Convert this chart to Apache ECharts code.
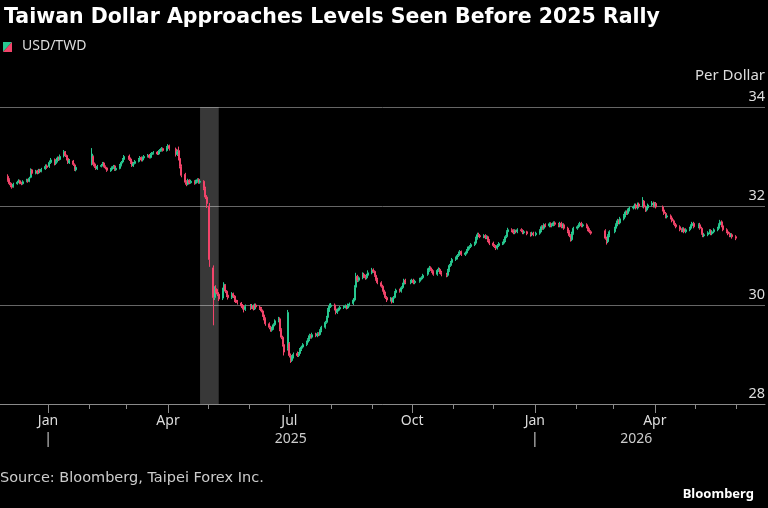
<!DOCTYPE html>
<html>
<head>
<meta charset="utf-8">
<title>USD/TWD</title>
<script src="https://cdn.jsdelivr.net/npm/echarts@6/dist/echarts.min.js"></script>
<style>
  html, body { margin: 0; padding: 0; background: #000; }
  #chart { width: 768px; height: 508px; }
</style>
</head>
<body>
<div id="chart"></div>
<script>
// 交易日历：工作日，去掉台北外汇市场休市日
const firstDay = '2024-12-02';
const lastDay = '2026-06-01';
const holidays = [
  '2025-01-01', '2025-01-23', '2025-01-24', '2025-01-27', '2025-01-28', '2025-01-29',
  '2025-01-30', '2025-01-31', '2025-02-28', '2025-04-03', '2025-04-04', '2025-05-01',
  '2025-05-30', '2025-09-29', '2025-10-06', '2025-10-10', '2025-10-24', '2025-12-25',
  '2026-01-01', '2026-02-13', '2026-02-16', '2026-02-17', '2026-02-18', '2026-02-19',
  '2026-02-20', '2026-02-27', '2026-04-03', '2026-04-06', '2026-05-01'
];

// 每个交易日的开/收/低/高（每行一个月）
const opens = [
  32.60, 32.53, 32.46, 32.42, 32.39, 32.45, 32.48, 32.51, 32.47, 32.45, 32.50, 32.53, 32.50, 32.58, 32.73, 32.66, 32.71, 32.67, 32.73, 32.70, 32.75, 32.81,
  32.80, 32.88, 32.94, 32.86, 32.91, 32.97, 32.94, 33.01, 33.09, 33.02, 32.96, 32.87, 32.91, 32.83, 32.73,
  32.85, 33.00, 32.85, 32.80, 32.75, 32.80, 32.82, 32.87, 32.80, 32.77, 32.71, 32.74, 32.78, 32.81, 32.73, 32.76, 32.82, 32.89, 32.94,
  33.01, 32.95, 32.89, 32.81, 32.86, 32.90, 32.94, 32.98, 32.93, 32.97, 33.00, 33.03, 32.98, 33.04, 33.06, 33.09, 33.05, 33.10, 33.12, 33.16, 33.12,
  33.18, 33.22, 33.15, 33.04, 33.12, 32.96, 32.80, 32.64, 32.49, 32.44, 32.52, 32.47, 32.50, 32.46, 32.50, 32.54, 32.48, 32.50, 32.36, 32.18,
  32.00, 30.75, 30.15, 30.33, 30.28, 30.22, 30.14, 30.30, 30.40, 30.28, 30.20, 30.15, 30.23, 30.18, 30.10, 30.08, 30.04, 29.98, 29.96, 29.91,
  29.97, 29.95, 29.98, 29.92, 30.00, 29.96, 29.93, 29.88, 29.80, 29.72, 29.62, 29.55, 29.49, 29.52, 29.60, 29.68, 29.72, 29.50, 29.35, 29.20, 29.12,
  29.22, 28.98, 28.88, 28.95, 29.02, 28.98, 29.02, 29.10, 29.15, 29.20, 29.25, 29.30, 29.38, 29.35, 29.41, 29.38, 29.42, 29.40, 29.48, 29.55, 29.65, 29.75, 29.90,
  29.97, 30.00, 29.92, 29.85, 29.90, 29.92, 29.95, 29.96, 29.98, 29.94, 30.00, 30.03, 30.10, 30.36, 30.58, 30.50, 30.55, 30.62, 30.58, 30.55, 30.60,
  30.65, 30.71, 30.68, 30.60, 30.52, 30.45, 30.38, 30.30, 30.24, 30.15, 30.10, 30.12, 30.06, 30.15, 30.25, 30.30, 30.28, 30.35, 30.42, 30.50, 30.45,
  30.48, 30.50, 30.45, 30.48, 30.52, 30.55, 30.62, 30.70, 30.75, 30.72, 30.68, 30.62, 30.70, 30.72, 30.66, 30.62, 30.60, 30.70, 30.80, 30.86,
  30.92, 30.95, 31.00, 31.05, 31.08, 31.02, 31.05, 31.10, 31.15, 31.18, 31.22, 31.25, 31.35, 31.42, 31.40, 31.38, 31.40, 31.36, 31.38, 31.30,
  31.25, 31.20, 31.18, 31.15, 31.20, 31.24, 31.25, 31.30, 31.38, 31.48, 31.52, 31.50, 31.46, 31.50, 31.48, 31.52, 31.50, 31.46, 31.48, 31.44, 31.42, 31.45,
  31.42, 31.45, 31.50, 31.58, 31.55, 31.62, 31.60, 31.64, 31.60, 31.62, 31.66, 31.63, 31.60, 31.65, 31.58, 31.62, 31.55, 31.48, 31.40, 31.32, 31.45,
  31.55, 31.58, 31.62, 31.65, 31.60, 31.62, 31.58, 31.52, 31.48, 31.50, 31.35, 31.28, 31.40,
  31.48, 31.55, 31.62, 31.70, 31.66, 31.74, 31.80, 31.88, 31.85, 31.92, 31.96, 31.98, 32.02, 31.96, 32.04, 32.00, 32.10, 31.98, 31.92, 31.96, 32.02, 32.06,
  32.00, 32.05, 31.98, 31.92, 31.85, 31.78, 31.80, 31.76, 31.70, 31.65, 31.62, 31.58, 31.52, 31.50, 31.54, 31.48, 31.52, 31.55, 31.60, 31.65,
  31.58, 31.62, 31.55, 31.45, 31.40, 31.42, 31.46, 31.50, 31.44, 31.48, 31.52, 31.55, 31.62, 31.68, 31.60, 31.52, 31.48, 31.44, 31.40, 31.42,
  31.38
];
const closes = [
  32.52, 32.45, 32.41, 32.38, 32.44, 32.48, 32.50, 32.46, 32.45, 32.49, 32.52, 32.50, 32.56, 32.72, 32.66, 32.70, 32.67, 32.72, 32.69, 32.74, 32.80, 32.78,
  32.88, 32.93, 32.85, 32.90, 32.97, 32.94, 33.00, 33.10, 33.02, 32.95, 32.88, 32.92, 32.84, 32.74, 32.78,
  33.05, 32.84, 32.80, 32.76, 32.80, 32.82, 32.86, 32.80, 32.77, 32.72, 32.74, 32.78, 32.80, 32.74, 32.76, 32.82, 32.88, 32.94, 33.00,
  32.94, 32.88, 32.82, 32.86, 32.90, 32.94, 32.98, 32.93, 32.97, 33.00, 33.02, 32.98, 33.04, 33.06, 33.08, 33.05, 33.10, 33.12, 33.16, 33.12, 33.18,
  33.21, 33.16, 33.05, 33.10, 32.95, 32.80, 32.62, 32.48, 32.44, 32.52, 32.47, 32.50, 32.46, 32.50, 32.53, 32.48, 32.50, 32.36, 32.18, 32.05,
  30.92, 30.15, 30.32, 30.28, 30.22, 30.12, 30.30, 30.42, 30.28, 30.20, 30.15, 30.22, 30.18, 30.10, 30.08, 30.05, 29.98, 29.96, 29.92, 29.97,
  29.95, 29.98, 29.92, 30.00, 29.96, 29.93, 29.88, 29.80, 29.72, 29.62, 29.55, 29.50, 29.52, 29.60, 29.68, 29.72, 29.50, 29.35, 29.20, 29.05, 29.85,
  28.98, 28.88, 28.95, 29.00, 28.98, 29.02, 29.10, 29.15, 29.20, 29.25, 29.30, 29.38, 29.35, 29.40, 29.38, 29.42, 29.40, 29.48, 29.55, 29.65, 29.75, 29.90, 29.98,
  30.00, 29.92, 29.85, 29.90, 29.92, 29.95, 29.96, 29.98, 29.94, 30.00, 30.02, 30.10, 30.35, 30.58, 30.50, 30.55, 30.62, 30.58, 30.55, 30.60, 30.65,
  30.70, 30.68, 30.60, 30.52, 30.45, 30.38, 30.30, 30.24, 30.15, 30.10, 30.12, 30.06, 30.15, 30.25, 30.30, 30.28, 30.35, 30.42, 30.50, 30.45, 30.48,
  30.50, 30.45, 30.48, 30.52, 30.55, 30.60, 30.70, 30.75, 30.72, 30.68, 30.62, 30.70, 30.72, 30.66, 30.62, 30.60, 30.70, 30.80, 30.86, 30.92,
  30.95, 31.00, 31.05, 31.08, 31.02, 31.05, 31.10, 31.15, 31.18, 31.22, 31.25, 31.35, 31.42, 31.40, 31.38, 31.40, 31.36, 31.38, 31.30, 31.25,
  31.20, 31.18, 31.15, 31.20, 31.24, 31.25, 31.30, 31.38, 31.48, 31.52, 31.50, 31.46, 31.50, 31.48, 31.52, 31.50, 31.46, 31.48, 31.44, 31.42, 31.45, 31.42,
  31.45, 31.50, 31.58, 31.55, 31.62, 31.60, 31.64, 31.60, 31.62, 31.66, 31.63, 31.60, 31.65, 31.58, 31.62, 31.55, 31.48, 31.40, 31.32, 31.45, 31.55,
  31.58, 31.62, 31.65, 31.60, 31.62, 31.58, 31.52, 31.48, 31.45, 31.35, 31.28, 31.40, 31.48,
  31.55, 31.62, 31.70, 31.66, 31.74, 31.80, 31.88, 31.85, 31.92, 31.96, 31.98, 32.02, 31.96, 32.04, 32.00, 32.10, 31.98, 31.92, 31.96, 32.02, 32.06, 32.00,
  32.05, 31.98, 31.92, 31.85, 31.78, 31.80, 31.76, 31.70, 31.65, 31.62, 31.58, 31.52, 31.50, 31.54, 31.48, 31.52, 31.55, 31.60, 31.65, 31.58,
  31.62, 31.55, 31.45, 31.40, 31.42, 31.46, 31.50, 31.44, 31.48, 31.52, 31.55, 31.62, 31.68, 31.60, 31.52, 31.48, 31.44, 31.40, 31.42, 31.38,
  31.35
];
const lows = [
  32.49, 32.42, 32.38, 32.35, 32.37, 32.43, 32.46, 32.44, 32.42, 32.43, 32.48, 32.47, 32.48, 32.56, 32.63, 32.64, 32.64, 32.65, 32.67, 32.68, 32.73, 32.75,
  32.77, 32.85, 32.82, 32.83, 32.88, 32.91, 32.92, 32.98, 32.99, 32.92, 32.85, 32.85, 32.81, 32.71, 32.70,
  32.82, 32.80, 32.77, 32.73, 32.73, 32.78, 32.80, 32.78, 32.74, 32.69, 32.69, 32.71, 32.75, 32.71, 32.71, 32.74, 32.80, 32.86, 32.91,
  32.91, 32.85, 32.79, 32.79, 32.84, 32.88, 32.92, 32.90, 32.90, 32.95, 32.98, 32.96, 32.96, 33.02, 33.04, 33.03, 33.03, 33.08, 33.10, 33.10, 33.10,
  33.15, 33.12, 33.00, 33.01, 32.92, 32.76, 32.58, 32.43, 32.40, 32.42, 32.44, 32.45, 32.43, 32.44, 32.47, 32.45, 32.45, 32.32, 32.14, 31.96,
  30.77, 29.59, 30.10, 30.24, 30.18, 30.08, 30.10, 30.27, 30.24, 30.16, 30.11, 30.12, 30.14, 30.06, 30.04, 30.01, 29.94, 29.91, 29.85, 29.88,
  29.90, 29.92, 29.89, 29.90, 29.93, 29.90, 29.85, 29.76, 29.69, 29.58, 29.51, 29.46, 29.46, 29.50, 29.57, 29.65, 29.47, 29.31, 29.16, 28.98, 29.08,
  28.94, 28.83, 28.85, 28.92, 28.95, 28.95, 28.99, 29.07, 29.12, 29.17, 29.22, 29.27, 29.32, 29.32, 29.35, 29.35, 29.37, 29.38, 29.45, 29.52, 29.62, 29.72, 29.86,
  29.94, 29.89, 29.81, 29.82, 29.87, 29.89, 29.92, 29.93, 29.91, 29.92, 29.97, 30.00, 30.07, 30.33, 30.46, 30.47, 30.52, 30.55, 30.51, 30.52, 30.57,
  30.62, 30.65, 30.57, 30.49, 30.42, 30.35, 30.27, 30.21, 30.12, 30.06, 30.07, 30.03, 30.04, 30.13, 30.22, 30.25, 30.25, 30.32, 30.40, 30.42, 30.42,
  30.45, 30.42, 30.42, 30.45, 30.50, 30.52, 30.59, 30.67, 30.69, 30.65, 30.59, 30.59, 30.67, 30.63, 30.58, 30.56, 30.57, 30.67, 30.77, 30.83,
  30.89, 30.92, 30.97, 31.02, 30.99, 30.99, 31.02, 31.07, 31.12, 31.15, 31.19, 31.22, 31.32, 31.37, 31.35, 31.35, 31.33, 31.33, 31.27, 31.21,
  31.17, 31.15, 31.11, 31.12, 31.17, 31.21, 31.22, 31.27, 31.35, 31.45, 31.47, 31.43, 31.43, 31.45, 31.45, 31.47, 31.43, 31.43, 31.41, 31.38, 31.39, 31.39,
  31.39, 31.42, 31.47, 31.52, 31.52, 31.57, 31.57, 31.57, 31.57, 31.59, 31.60, 31.57, 31.57, 31.55, 31.55, 31.52, 31.45, 31.37, 31.28, 31.29, 31.42,
  31.52, 31.55, 31.59, 31.57, 31.57, 31.55, 31.49, 31.45, 31.42, 31.32, 31.22, 31.25, 31.37,
  31.45, 31.52, 31.59, 31.63, 31.63, 31.71, 31.77, 31.82, 31.82, 31.89, 31.93, 31.95, 31.93, 31.93, 31.97, 31.97, 31.95, 31.88, 31.89, 31.93, 31.99, 31.97,
  31.97, 31.95, 31.89, 31.82, 31.75, 31.75, 31.73, 31.67, 31.62, 31.59, 31.55, 31.49, 31.47, 31.47, 31.45, 31.45, 31.49, 31.52, 31.57, 31.55,
  31.55, 31.52, 31.42, 31.37, 31.37, 31.39, 31.43, 31.41, 31.41, 31.45, 31.49, 31.52, 31.59, 31.57, 31.49, 31.45, 31.41, 31.37, 31.37, 31.34,
  31.31
];
const highs = [
  32.64, 32.56, 32.48, 32.44, 32.47, 32.51, 32.54, 32.53, 32.49, 32.52, 32.55, 32.55, 32.59, 32.76, 32.75, 32.73, 32.73, 32.75, 32.75, 32.77, 32.84, 32.84,
  32.92, 32.97, 32.96, 32.93, 33.00, 33.00, 33.04, 33.13, 33.11, 33.04, 32.98, 32.95, 32.93, 32.86, 32.81,
  33.17, 33.02, 32.88, 32.82, 32.83, 32.85, 32.89, 32.89, 32.82, 32.79, 32.77, 32.80, 32.83, 32.83, 32.79, 32.85, 32.91, 32.97, 33.03,
  33.04, 32.98, 32.91, 32.89, 32.93, 32.97, 33.01, 33.00, 33.00, 33.03, 33.05, 33.05, 33.07, 33.09, 33.11, 33.11, 33.13, 33.15, 33.19, 33.18, 33.21,
  33.25, 33.24, 33.18, 33.14, 33.20, 32.98, 32.84, 32.67, 32.52, 32.55, 32.54, 32.53, 32.52, 32.53, 32.56, 32.56, 32.53, 32.52, 32.39, 32.22,
  32.06, 30.80, 30.38, 30.40, 30.32, 30.26, 30.35, 30.46, 30.42, 30.30, 30.24, 30.26, 30.25, 30.20, 30.13, 30.10, 30.06, 30.02, 30.00, 30.01,
  30.02, 30.02, 30.01, 30.03, 30.03, 29.99, 29.96, 29.91, 29.83, 29.75, 29.65, 29.58, 29.56, 29.63, 29.71, 29.76, 29.75, 29.53, 29.38, 29.24, 29.90,
  29.25, 29.02, 28.98, 29.04, 29.06, 29.05, 29.13, 29.18, 29.23, 29.28, 29.33, 29.42, 29.41, 29.44, 29.44, 29.45, 29.45, 29.51, 29.58, 29.68, 29.78, 29.94, 30.03,
  30.04, 30.03, 29.95, 29.93, 29.95, 29.98, 29.99, 30.01, 30.00, 30.03, 30.05, 30.14, 30.40, 30.65, 30.61, 30.58, 30.66, 30.65, 30.61, 30.63, 30.70,
  30.75, 30.74, 30.70, 30.63, 30.55, 30.48, 30.41, 30.33, 30.27, 30.18, 30.16, 30.15, 30.18, 30.28, 30.33, 30.33, 30.38, 30.45, 30.53, 30.53, 30.51,
  30.53, 30.53, 30.51, 30.55, 30.58, 30.63, 30.74, 30.79, 30.78, 30.75, 30.70, 30.73, 30.76, 30.75, 30.69, 30.65, 30.73, 30.83, 30.89, 30.95,
  30.98, 31.03, 31.08, 31.11, 31.10, 31.08, 31.13, 31.18, 31.21, 31.25, 31.28, 31.38, 31.46, 31.46, 31.43, 31.43, 31.43, 31.41, 31.40, 31.33,
  31.28, 31.23, 31.21, 31.23, 31.27, 31.28, 31.33, 31.41, 31.51, 31.56, 31.55, 31.53, 31.53, 31.52, 31.55, 31.55, 31.53, 31.51, 31.50, 31.47, 31.48, 31.48,
  31.48, 31.53, 31.61, 31.61, 31.65, 31.65, 31.67, 31.67, 31.65, 31.69, 31.69, 31.66, 31.68, 31.68, 31.65, 31.65, 31.58, 31.51, 31.43, 31.48, 31.58,
  31.61, 31.65, 31.68, 31.68, 31.65, 31.65, 31.61, 31.55, 31.51, 31.53, 31.38, 31.43, 31.51,
  31.58, 31.65, 31.74, 31.73, 31.78, 31.84, 31.91, 31.91, 31.95, 31.99, 32.01, 32.05, 32.05, 32.07, 32.07, 32.18, 32.12, 32.01, 31.99, 32.05, 32.10, 32.09,
  32.08, 32.08, 32.01, 31.95, 31.88, 31.83, 31.83, 31.79, 31.73, 31.68, 31.65, 31.61, 31.55, 31.57, 31.57, 31.55, 31.58, 31.63, 31.68, 31.68,
  31.65, 31.66, 31.58, 31.48, 31.45, 31.49, 31.53, 31.53, 31.51, 31.55, 31.58, 31.65, 31.72, 31.71, 31.63, 31.55, 31.51, 31.47, 31.45, 31.45,
  31.41
];

// 坐标轴刻度
const monthTicks = [
  '2025-01-01', '2025-02-01', '2025-03-01', '2025-04-01', '2025-05-01', '2025-06-01',
  '2025-07-01', '2025-08-01', '2025-09-01', '2025-10-01', '2025-11-01', '2025-12-01',
  '2026-01-01', '2026-02-01', '2026-03-01', '2026-04-01', '2026-05-01', '2026-06-01'
];
const quarterTicks = ['2025-01-01', '2025-04-01', '2025-07-01', '2025-10-01', '2026-01-01', '2026-04-01'];
const quarterLabels = ['Jan', 'Apr', 'Jul', 'Oct', 'Jan', 'Apr'];
const yearMarks = ['2025-01-01', '2025-07-02', '2026-01-01', '2026-03-18'];
const yearLabels = ['|', '2025', '|', '2026'];
const shadeRange = ['2025-04-25', '2025-05-09'];
const axisStart = '2024-11-26';
const axisDays = 573.6;

const DAY = 86400000;
function ts(s) {
  const p = s.split('-').map(Number);
  return Date.UTC(p[0], p[1] - 1, p[2]);
}

const holidaySet = new Set(holidays.map(ts));
const dates = [];
for (let t = ts(firstDay); t <= ts(lastDay); t += DAY) {
  const wd = new Date(t).getUTCDay();
  if (wd === 0 || wd === 6 || holidaySet.has(t)) continue;
  dates.push(t);
}
if (dates.length !== closes.length) console.warn('length mismatch', dates.length, closes.length);

// 蜡烛图数据: [date, open, close, low, high]
const candles = dates.map((d, i) => {
  const o = opens[i], c = closes[i];
  return [d, o, c, Math.min(lows[i], o, c), Math.max(highs[i], o, c)];
});

const quarterTs = quarterTicks.map(ts);
const yearTs = yearMarks.map(ts);
const xMin = ts(axisStart);
const xMax = xMin + axisDays * DAY;
const FONT = 'Noto Sans';
const UP = '#27c890';
const DOWN = '#f2446a';

const chart = echarts.init(document.getElementById('chart'));
const option = {
  backgroundColor: '#000',
  animation: false,
  title: {
    text: 'Taiwan Dollar Approaches Levels Seen Before 2025 Rally',
    left: -1,
    top: 2,
    textStyle: { color: '#fff', fontSize: 20.5, fontWeight: 'bold', fontFamily: 'DejaVu Sans' }
  },
  graphic: [
    { type: 'polygon', shape: { points: [[3, 42], [12, 42], [3, 52]] }, style: { fill: UP } },
    { type: 'polygon', shape: { points: [[12, 42], [12, 52], [3, 52]] }, style: { fill: DOWN } },
    { type: 'text', left: 22, top: 39, style: { text: 'USD/TWD', fill: '#ddd', font: '14px "Noto Sans"' } },
    { type: 'text', left: 0, top: 471, style: { text: 'Source: Bloomberg, Taipei Forex Inc.', fill: '#ccc', font: '14.5px "DejaVu Sans"' } },
    { type: 'text', right: 14, top: 488, style: { text: 'Bloomberg', fill: '#fff', font: 'bold 13px "Noto Sans"' } }
  ],
  grid: { left: 0, right: 2, top: 107, bottom: 104 },
  xAxis: [
    {
      type: 'value',
      min: xMin,
      max: xMax,
      axisLine: { lineStyle: { color: '#8a8a8a' } },
      axisTick: { customValues: monthTicks.map(ts), length: 5, lineStyle: { color: '#8a8a8a' } },
      axisLabel: {
        customValues: quarterTs,
        formatter: v => quarterLabels[quarterTs.indexOf(v)] || '',
        color: '#ddd', fontSize: 14, fontFamily: FONT, margin: 10
      },
      splitLine: { show: false }
    },
    {
      type: 'value',
      position: 'bottom',
      min: xMin,
      max: xMax,
      axisLine: { show: false },
      axisTick: { show: true, customValues: quarterTs, length: 9, lineStyle: { color: '#8a8a8a' } },
      axisLabel: {
        customValues: yearTs,
        formatter: v => yearLabels[yearTs.indexOf(v)] || '',
        color: '#ccc', fontSize: 14, fontFamily: FONT, margin: 28
      },
      splitLine: { show: false }
    }
  ],
  yAxis: {
    type: 'value',
    position: 'right',
    min: 28,
    max: 34,
    interval: 2,
    name: 'Per Dollar',
    nameLocation: 'end',
    nameGap: 24,
    nameTextStyle: { color: '#ddd', fontSize: 15, fontFamily: FONT, align: 'right', verticalAlign: 'bottom' },
    axisLine: { show: false },
    axisTick: { show: false },
    axisLabel: {
      inside: true, margin: 0, color: '#ddd', fontSize: 14.5, fontFamily: FONT,
      verticalAlign: 'bottom', padding: [0, 0, 3, 0]
    },
    splitLine: { lineStyle: { color: '#666', width: 1 } }
  },
  series: [
    {
      name: 'USD/TWD',
      type: 'candlestick',
      xAxisIndex: 0,
      barWidth: 1.5,
      data: candles,
      itemStyle: { color: UP, color0: DOWN, borderColor: UP, borderColor0: DOWN, borderWidth: 1 },
      markArea: {
        silent: true,
        itemStyle: { color: 'rgba(255,255,255,0.22)' },
        data: [[{ xAxis: ts(shadeRange[0]) }, { xAxis: ts(shadeRange[1]) }]]
      }
    }
  ]
};
chart.setOption(option);
</script>
</body>
</html>
